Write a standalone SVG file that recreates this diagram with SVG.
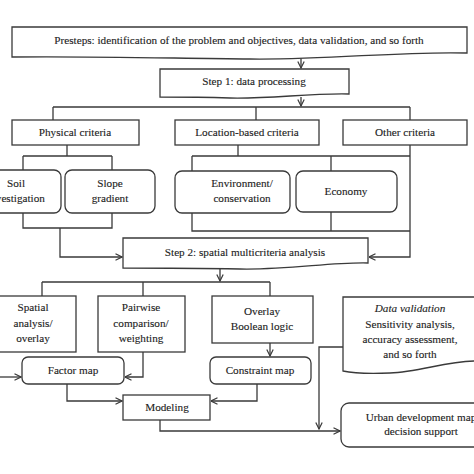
<svg xmlns="http://www.w3.org/2000/svg" width="474" height="474" viewBox="0 0 474 474">
<defs>
<marker id="ah" viewBox="0 0 8 8" refX="7.5" refY="4" markerWidth="8" markerHeight="8" markerUnits="userSpaceOnUse" orient="auto">
<path d="M1,0.8 L7.5,4 L1,7.2" fill="none" stroke="#3a3a3a" stroke-width="1.2"/>
</marker>
</defs>
<style>
.b{fill:#fff;stroke:#3a3a3a;stroke-width:1.3}
.c{fill:none;stroke:#3a3a3a;stroke-width:1.3}
.a{fill:none;stroke:#3a3a3a;stroke-width:1.3;marker-end:url(#ah)}
text{font-family:"Liberation Serif","Times New Roman",serif;font-size:11.2px;fill:#222;stroke:#222;stroke-width:0.12;text-anchor:middle}
.i{font-style:italic}
</style>
<rect width="474" height="474" fill="#fff"/>
<g id="connectors">
<path class="a" d="M301,54 V68"/>
<path class="a" d="M301,97 V106"/>
<path class="c" d="M53,107 H410 M53,107 V120 M256,107 V120 M410,107 V120"/>
<path class="c" d="M67,145 V156 M23,156 H112 M23,156 V170 M112,156 V170"/>
<path class="c" d="M238,145 V156 M192,156 H410 M192,156 V171 M331,156 V171"/>
<path class="c" d="M23,213 V228 H112 V213"/>
<path class="a" d="M60,228 V257 H122"/>
<path class="c" d="M192,213 V231 H410 M331,212 V231"/>
<path class="a" d="M410,145 V257 H369"/>
<path class="a" d="M220,267 V281"/>
<path class="c" d="M42,282 H270 M42,282 V296 M143,282 V296 M270,282 V296"/>
<path class="a" d="M270,343 V356"/>
<path class="a" d="M0,377 H21"/>
<path class="a" d="M143,352 V377 H125"/>
<path class="a" d="M67,384 V401 H122"/>
<path class="a" d="M257,384 V401 H211"/>
<path class="a" d="M343,347 H319 V429"/>
<path class="a" d="M160,420 V431 H340"/>
</g>
<g id="presteps">
<path class="b" d="M12,27 H467 V53 C400,51 330,60 250,59 C160,58 80,56 12,57 Z"/>
<text x="239" y="44">Presteps: identification of the problem and objectives, data validation, and so forth</text>
</g>
<g id="step1">
<path class="b" d="M160,69 H349 V94 C310,93 270,99 230,98 C200,97 180,97 160,97 Z"/>
<text x="254" y="85">Step 1: data processing</text>
</g>
<g id="physical">
<rect class="b" x="12" y="120" width="127" height="25"/>
<text x="75" y="136">Physical criteria</text>
</g>
<g id="location">
<rect class="b" x="175" y="120" width="144" height="25"/>
<text x="247" y="136">Location-based criteria</text>
</g>
<g id="other">
<rect class="b" x="343" y="120" width="124" height="25"/>
<text x="405" y="136">Other criteria</text>
</g>
<g id="soil">
<rect class="b" x="-30" y="170" width="91" height="43" rx="7"/>
<text x="16" y="187">Soil</text>
<text x="16" y="202">investigation</text>
</g>
<g id="slope">
<rect class="b" x="65" y="170" width="90" height="43" rx="7"/>
<text x="110" y="187">Slope</text>
<text x="110" y="202">gradient</text>
</g>
<g id="environment">
<rect class="b" x="175" y="171" width="115" height="42" rx="7"/>
<text x="242" y="187">Environment/</text>
<text x="242" y="202">conservation</text>
</g>
<g id="economy">
<rect class="b" x="296" y="171" width="101" height="41" rx="7"/>
<text x="346" y="195">Economy</text>
</g>
<g id="step2">
<path class="b" d="M123,238 H368 V263 C330,262 290,270 240,269 C190,268 150,268 123,268 Z"/>
<text x="245" y="256">Step 2: spatial multicriteria analysis</text>
</g>
<g id="spatial">
<rect class="b" x="-10" y="296" width="86" height="56"/>
<text x="33" y="311">Spatial</text>
<text x="33" y="327">analysis/</text>
<text x="33" y="342">overlay</text>
</g>
<g id="pairwise">
<rect class="b" x="98" y="296" width="87" height="56"/>
<text x="141" y="311">Pairwise</text>
<text x="141" y="327">comparison/</text>
<text x="141" y="342">weighting</text>
</g>
<g id="overlay">
<rect class="b" x="212" y="296" width="101" height="47"/>
<text x="262" y="315">Overlay</text>
<text x="262" y="330">Boolean logic</text>
</g>
<g id="validation">
<path class="b" d="M343,297 H480 V361 C450,360 420,372 390,373 C365,374 352,373 343,371 Z"/>
<text class="i" x="410" y="312">Data validation</text>
<text x="410" y="328">Sensitivity analysis,</text>
<text x="410" y="343">accuracy assessment,</text>
<text x="410" y="358">and so forth</text>
</g>
<g id="factor">
<rect class="b" x="22" y="357" width="102" height="27" rx="6"/>
<text x="73" y="374">Factor map</text>
</g>
<g id="constraint">
<rect class="b" x="210" y="357" width="101" height="27" rx="6"/>
<text x="260" y="374">Constraint map</text>
</g>
<g id="modeling">
<rect class="b" x="123" y="395" width="87" height="25"/>
<text x="167" y="411">Modeling</text>
</g>
<g id="urban">
<rect class="b" x="341" y="403" width="150" height="44" rx="8"/>
<text x="421" y="421">Urban development map</text>
<text x="421" y="435">decision support</text>
</g>
</svg>
